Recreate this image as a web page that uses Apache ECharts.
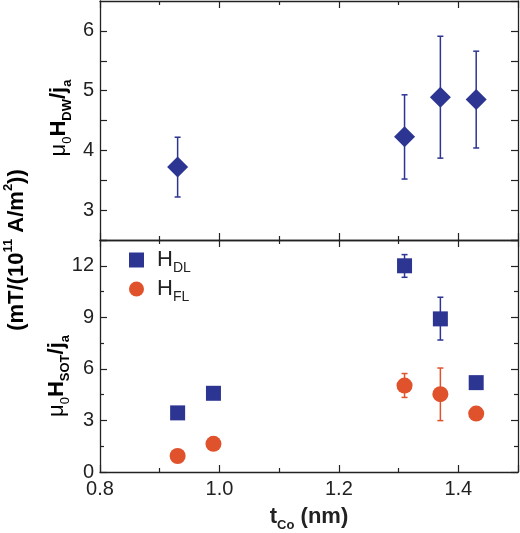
<!DOCTYPE html>
<html>
<head>
<meta charset="utf-8">
<script src="https://cdn.jsdelivr.net/npm/echarts@6/dist/echarts.min.js"></script>
<style>html,body{margin:0;padding:0;background:#fff}#c{width:520px;height:533px}</style>
</head>
<body>
<div id="c"></div>
<script>
// ---- data ----
const tCoDW = [0.93, 1.31, 1.37, 1.43];
const hdw = [3.72, 4.23, 4.89, 4.85];
const hdwLow = [3.22, 3.52, 3.87, 4.04];
const hdwHigh = [4.22, 4.93, 5.91, 5.66];

const tCoSOT = [0.93, 0.99, 1.31, 1.37, 1.43];
const hdl = [3.44, 4.58, 12.0, 8.91, 5.2];
const hdlLow = [null, null, 11.33, 7.68, null];
const hdlHigh = [null, null, 12.65, 10.17, null];
const hfl = [0.93, 1.64, 5.03, 4.53, 3.40];
const hflLow = [null, null, 4.34, 2.99, null];
const hflHigh = [null, null, 5.73, 6.05, null];

const xTickLabels = ['0.8', '1.0', '1.2', '1.4'];
const yTopTickLabels = ['3', '4', '5', '6'];
const yBotTickLabels = ['0', '3', '6', '9', '12'];

// ---- styles ----
const BLUE = '#2d3593';
const ORANGE = '#e0522b';
const AX = '#222';
const FONT = '"Liberation Sans", Arial, sans-serif';

const chart = echarts.init(document.getElementById('c'));

function pts(xs, ys) { return xs.map((x, i) => [x, ys[i]]); }
function errs(xs, lo, hi) {
  const out = [];
  xs.forEach((x, i) => { if (lo[i] != null) out.push([x, lo[i], hi[i]]); });
  return out;
}
function errSeries(data, color, xi, yi) {
  return {
    type: 'custom', xAxisIndex: xi, yAxisIndex: yi, z: 1, silent: true,
    data: data,
    renderItem: function (params, api) {
      const x = api.value(0);
      const p1 = api.coord([x, api.value(1)]);
      const p2 = api.coord([x, api.value(2)]);
      const cw = 3;
      const st = { stroke: color, lineWidth: 1.5 };
      return {
        type: 'group', children: [
          { type: 'line', shape: { x1: p1[0], y1: p1[1], x2: p2[0], y2: p2[1] }, style: st },
          { type: 'line', shape: { x1: p1[0] - cw, y1: p1[1], x2: p1[0] + cw, y2: p1[1] }, style: st },
          { type: 'line', shape: { x1: p2[0] - cw, y1: p2[1], x2: p2[0] + cw, y2: p2[1] }, style: st }
        ]
      };
    }
  };
}

function xLabelFmt(v) {
  const s = v.toFixed(1);
  return xTickLabels.indexOf(s) >= 0 ? s : '';
}
function mkX(grid, pos, showLabel) {
  return {
    type: 'value', gridIndex: grid, position: pos, min: 0.8, max: 1.5, interval: 0.2,
    axisLine: { show: true, onZero: false, lineStyle: { color: AX, width: 1.3 } },
    axisTick: { show: true, inside: true, length: 7, lineStyle: { color: AX, width: 1.2 } },
    minorTick: { show: true, splitNumber: 2, length: 4, lineStyle: { color: AX, width: 1.2 } },
    splitLine: { show: false }, minorSplitLine: { show: false },
    axisLabel: { show: showLabel, formatter: xLabelFmt, margin: 7, fontSize: 20, color: '#222', fontFamily: FONT, showMaxLabel: false }
  };
}
function mkY(grid, pos, min, max, interval, minorSplit, labels, showLabel) {
  return {
    type: 'value', gridIndex: grid, position: pos, min: min, max: max, interval: interval,
    axisLine: { show: true, onZero: false, lineStyle: { color: AX, width: 1.3 } },
    axisTick: { show: true, inside: true, length: 7, lineStyle: { color: AX, width: 1.2 } },
    minorTick: { show: minorSplit > 0, splitNumber: minorSplit || 5, length: 4, lineStyle: { color: AX, width: 1.2 } },
    splitLine: { show: false }, minorSplitLine: { show: false },
    axisLabel: {
      show: showLabel, margin: 6, fontSize: 20, color: '#222', fontFamily: FONT, showMaxLabel: false,
      formatter: function (v) { const s = String(Math.round(v * 100) / 100); return labels.indexOf(s) >= 0 ? s : ''; }
    }
  };
}

const subRich = {
  b: { fontSize: 22, fontWeight: 'bold', fontFamily: FONT, color: '#222', lineHeight: 30, verticalAlign: 'middle' },
  n: { fontSize: 22, fontWeight: 'normal', fontFamily: FONT, color: '#222', lineHeight: 30, verticalAlign: 'middle' },
  s: { fontSize: 13, fontWeight: 'bold', fontFamily: FONT, color: '#222', lineHeight: 30, verticalAlign: 'bottom' },
  sn: { fontSize: 13, fontWeight: 'normal', fontFamily: FONT, color: '#222', lineHeight: 30, verticalAlign: 'bottom' },
  sup: { fontSize: 13, fontWeight: 'bold', fontFamily: FONT, color: '#222', lineHeight: 30, verticalAlign: 'top' }
};

const option = {
  animation: false,
  backgroundColor: '#fff',
  grid: [
    { left: 100, top: 1, right: 2, height: 239 },
    { left: 100, top: 240, right: 2, height: 241 }
  ],
  xAxis: [
    mkX(0, 'bottom', false),
    mkX(0, 'top', false),
    Object.assign(mkX(1, 'bottom', true), {
      name: '{b|t}{s|Co}{b| (nm)}', nameLocation: 'middle', nameGap: 30,
      nameTextStyle: { rich: subRich }
    }),
    mkX(1, 'top', false)
  ],
  yAxis: [
    mkY(0, 'left', 2.5, 6.5, 0.5, 0, yTopTickLabels, true),
    mkY(0, 'right', 2.5, 6.5, 0.5, 0, yTopTickLabels, false),
    mkY(1, 'left', 0, 13.5, 3, 2, yBotTickLabels, true),
    mkY(1, 'right', 0, 13.5, 3, 2, yBotTickLabels, false)
  ],
  legend: {
    orient: 'vertical', left: 124, top: 244, itemWidth: 15, itemHeight: 15, itemGap: 3,
    data: ['HDL', 'HFL'],
    formatter: function (name) { return '{h|H}{s|' + name.slice(1) + '}'; },
    textStyle: {
      padding: [0, 0, 0, 8],
      rich: {
        h: { fontSize: 22, fontFamily: FONT, color: '#222', lineHeight: 30, verticalAlign: 'middle' },
        s: { fontSize: 14, fontFamily: FONT, color: '#222', lineHeight: 30, verticalAlign: 'bottom' }
      }
    }
  },
  graphic: [
    {
      type: 'text', x: 59, y: 118, rotation: Math.PI / 2,
      style: { text: '{n|μ}{sn|0}{b|H}{s|DW}{b|/j}{s|a}', rich: subRich, align: 'center', verticalAlign: 'middle' }
    },
    {
      type: 'text', x: 57, y: 376, rotation: Math.PI / 2,
      style: { text: '{n|μ}{sn|0}{b|H}{s|SOT}{b|/j}{s|a}', rich: subRich, align: 'center', verticalAlign: 'middle' }
    },
    {
      type: 'text', x: 17, y: 250, rotation: Math.PI / 2,
      style: { text: '{b|(mT/(10}{sup|11}{b| A/m}{sup|2}{b|))}', rich: subRich, align: 'center', verticalAlign: 'middle' }
    }
  ],
  series: [
    errSeries(errs(tCoDW, hdwLow, hdwHigh), BLUE, 0, 0),
    { name: 'HDW', type: 'scatter', xAxisIndex: 0, yAxisIndex: 0, z: 3, symbol: 'diamond', symbolSize: 21,
      itemStyle: { color: BLUE, opacity: 1 }, data: pts(tCoDW, hdw) },
    errSeries(errs(tCoSOT, hdlLow, hdlHigh), BLUE, 2, 2),
    errSeries(errs(tCoSOT, hflLow, hflHigh), ORANGE, 2, 2),
    { name: 'HDL', type: 'scatter', xAxisIndex: 2, yAxisIndex: 2, z: 3, symbol: 'rect', symbolSize: 15,
      itemStyle: { color: BLUE, opacity: 1 }, data: pts(tCoSOT, hdl) },
    { name: 'HFL', type: 'scatter', xAxisIndex: 2, yAxisIndex: 2, z: 3, symbol: 'circle', symbolSize: 16,
      itemStyle: { color: ORANGE, opacity: 1 }, data: pts(tCoSOT, hfl) }
  ]
};
chart.setOption(option);
</script>
</body>
</html>
